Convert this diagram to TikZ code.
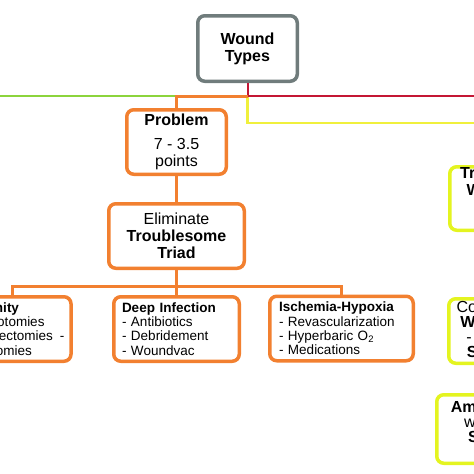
\documentclass[tikz,border=0pt]{standalone}
\usepackage{fontspec}
\setmainfont{Liberation Sans}
\definecolor{boxgrey}{RGB}{112,124,124}
\definecolor{orng}{RGB}{242,128,48}
\definecolor{ylw}{RGB}{228,244,32}
\definecolor{ylwline}{RGB}{240,240,60}
\definecolor{grn}{RGB}{140,212,60}
\definecolor{redl}{RGB}{196,22,52}
\begin{document}
\begin{tikzpicture}[x=1pt,y=-1pt,
  box/.style={draw, rounded corners=7pt, line width=3.5pt, fill=white, inner sep=0pt, align=center},
  big/.style={font=\fontsize{16}{17}\selectfont},
  small/.style={font=\fontsize{13.5}{14.3}\selectfont, align=left, minimum height=64.5pt},
  conn/.style={line width=3pt, orng},
  thinconn/.style={line width=2pt}]
\useasboundingbox (0,0) rectangle (474,474);
% nodes
\node[box, big, draw=boxgrey, minimum width=99.5pt, minimum height=65.5pt] (wt) at (247.5,48.5) {\textbf{Wound}\\\textbf{Types}};
\node[box, big, draw=orng, minimum width=99.5pt, minimum height=64.5pt] (prob) at (176.5,142) {\textbf{Problem}\\[7pt]7 - 3.5\\points};
\node[box, big, draw=orng, minimum width=135.5pt, minimum height=64.5pt] (elim) at (176.5,236) {Eliminate\\\textbf{Troublesome}\\\textbf{Triad}};
\node[box, small, draw=orng, inner xsep=3pt, text width=112pt] (deform) at (12,329) {\textbf{Deformity}\\- Fasciotomies\\\mbox{- Exostectomies\hspace{7pt}-}\\Osteotomies};
\node[box, small, draw=orng, inner xsep=8.25pt, text width=109pt] (deep) at (176.5,329) {\textbf{Deep Infection}\\- Antibiotics\\- Debridement\\- Woundvac};
\node[box, small, draw=orng, inner xsep=9.25pt, text width=125pt] (isch) at (341.5,328.5) {\textbf{Ischemia-Hypoxia}\\- Revascularization\\- Hyperbaric O\textsubscript{2}\\- Medications};
\node[box, big, draw=ylw, minimum width=96.5pt, minimum height=63.5pt] (y1) at (498,198.5) {\textbf{Traumatic}\\\textbf{Wounds}\\\vphantom{X}\\\vphantom{X}};
\node[box, big, font=\fontsize{16}{15}\selectfont, draw=ylw, minimum width=96.5pt, minimum height=64.5pt] (y2) at (497,331) {Conversion\\\textbf{Wound to}\\- healthy\\\textbf{Salvage}};
\node[box, big, font=\fontsize{16}{14.5}\selectfont, draw=ylw, minimum width=96.5pt, minimum height=68.5pt] (y3) at (485,429) {\textbf{Amputee}\\with a\\\textbf{Skin}\\\vphantom{X}};
% junction coordinates
\coordinate (j) at (247.5,96);
\coordinate (lend) at (-5,96);
\coordinate (rend) at (480,96);
\coordinate (yend) at (480,123);
\coordinate (k) at (176.5,286);
% connectors
\draw[thinconn, grn] (prob.north |- j) -- (lend);
\draw[thinconn, ylwline, line width=2.5pt] (j) -- (j |- yend) -- (yend);
\draw[thinconn, redl] (wt.south) -- (j) -- (rend);
\draw[conn] (j) -- (prob.north |- j) -- (prob.north);
\draw[conn] (prob.south) -- (elim.north);
\draw[conn] (elim.south) -- (k);
\draw[conn] (deform.north) -- (deform.north |- k) -- (isch.north |- k) -- (isch.north);
\draw[conn] (k) -- (deep.north);
\end{tikzpicture}
\end{document}
